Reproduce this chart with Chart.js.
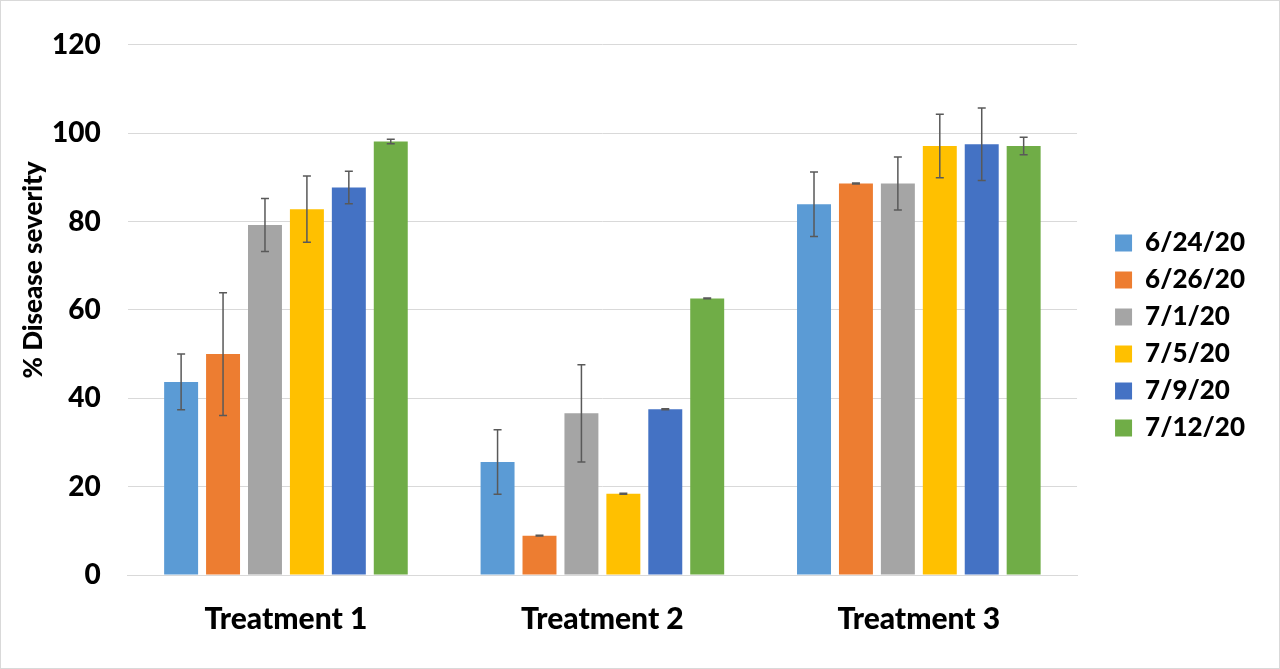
<!DOCTYPE html>
<html lang="en">
<head>
    <meta charset="UTF-8">
    <title>Disease severity</title>
    <script src="https://cdn.jsdelivr.net/npm/chart.js"></script>
    <style>
        html, body { margin: 0; padding: 0; background: #fff; }
        .wrap { width: 1280px; height: 669px; position: relative; box-sizing: border-box; border: 1px solid #d9d9d9; }
    </style>
</head>
<body>
    <div class="wrap">
        <canvas id="grafica"></canvas>
    </div>

    <script>
        // Data
        const categorias = ['Treatment 1', 'Treatment 2', 'Treatment 3'];
        const fechas = ['6/24/20', '6/26/20', '7/1/20', '7/5/20', '7/9/20', '7/12/20'];
        const colores = ['#5B9BD5', '#ED7D31', '#A5A5A5', '#FFC000', '#4472C4', '#70AD47'];

        const v0624 = [43.7, 25.6, 83.9];
        const v0626 = [50.0, 8.9, 88.6];
        const v0701 = [79.2, 36.6, 88.6];
        const v0705 = [82.8, 18.4, 97.1];
        const v0709 = [87.7, 37.5, 97.5];
        const v0712 = [98.1, 62.6, 97.1];

        const e0624 = [6.3, 7.3, 7.3];
        const e0626 = [13.9, 0.1, 0.1];
        const e0701 = [6.0, 11.0, 6.0];
        const e0705 = [7.5, 0.1, 7.2];
        const e0709 = [3.7, 0.1, 8.2];
        const e0712 = [0.5, 0.1, 2.0];

        const yTicks = [0, 20, 40, 60, 80, 100, 120];
        const tituloY = '% Disease severity';

        const valores = [v0624, v0626, v0701, v0705, v0709, v0712];
        const errores = [e0624, e0626, e0701, e0705, e0709, e0712];

        Chart.defaults.font.family = 'Lato, "Open Sans", sans-serif';
        Chart.defaults.font.weight = 900;
        Chart.defaults.color = '#000';

        // error bars drawn through the y scale
        const barrasError = {
            id: 'barrasError',
            afterDatasetsDraw(chart) {
                const ctx = chart.ctx;
                const y = chart.scales.y;
                ctx.save();
                ctx.strokeStyle = '#595959';
                ctx.lineWidth = 1.5;
                chart.data.datasets.forEach((ds, i) => {
                    const meta = chart.getDatasetMeta(i);
                    meta.data.forEach((bar, j) => {
                        const v = ds.data[j];
                        const e = ds.errores[j];
                        const top = y.getPixelForValue(v + e);
                        const bot = y.getPixelForValue(v - e);
                        ctx.beginPath();
                        ctx.moveTo(bar.x, top);
                        ctx.lineTo(bar.x, bot);
                        ctx.moveTo(bar.x - 4, top);
                        ctx.lineTo(bar.x + 4, top);
                        ctx.moveTo(bar.x - 4, bot);
                        ctx.lineTo(bar.x + 4, bot);
                        ctx.stroke();
                    });
                });
                ctx.restore();
            }
        };

        // extra gap between plot area and legend items, legend nudged up
        const GAP_LEYENDA = 27;
        const SUBIR_LEYENDA = 13;
        const huecoLeyenda = {
            id: 'huecoLeyenda',
            beforeInit(chart) {
                const fit = chart.legend.fit;
                chart.legend.fit = function () {
                    fit.call(this);
                    this.width += GAP_LEYENDA;
                };
            },
            afterLayout(chart) {
                const l = chart.legend;
                l.left += GAP_LEYENDA;
                l.right += GAP_LEYENDA;
                l.top -= SUBIR_LEYENDA;
                l.bottom -= SUBIR_LEYENDA;
            }
        };

        // y axis title, sits a bit above the plot centre like the original
        const tituloEje = {
            id: 'tituloEje',
            afterDraw(chart) {
                const ctx = chart.ctx;
                const area = chart.chartArea;
                ctx.save();
                ctx.translate(33, (area.top + area.bottom) / 2 - 40);
                ctx.rotate(-Math.PI / 2);
                ctx.font = '900 26px Lato, "Open Sans", sans-serif';
                ctx.fillStyle = '#000';
                ctx.textAlign = 'center';
                ctx.textBaseline = 'middle';
                ctx.fillText(tituloY, 0, 0);
                ctx.restore();
            }
        };

        const ctx = document.getElementById('grafica').getContext('2d');
        new Chart(ctx, {
            type: 'bar',
            data: {
                labels: categorias,
                datasets: fechas.map((f, i) => ({
                    label: f,
                    data: valores[i],
                    errores: errores[i],
                    backgroundColor: colores[i],
                    borderWidth: 0,
                    categoryPercentage: 0.795,
                    barPercentage: 0.81
                }))
            },
            options: {
                responsive: true,
                maintainAspectRatio: false,
                animation: false,
                layout: { padding: { top: 41, right: 24, bottom: 13, left: 24 } },
                plugins: {
                    tooltip: { enabled: false },
                    legend: {
                        position: 'right',
                        labels: {
                            boxWidth: 17,
                            boxHeight: 17,
                            padding: 11,
                            font: { size: 26, weight: 900 }
                        }
                    }
                },
                scales: {
                    x: {
                        grid: { display: false },
                        border: { color: '#d9d9d9', width: 1 },
                        ticks: { padding: 18, font: { size: 30, weight: 900 } }
                    },
                    y: {
                        min: 0,
                        max: 120,
                        afterBuildTicks: (s) => { s.ticks = yTicks.map(v => ({ value: v })); },
                        grid: { color: '#d9d9d9', lineWidth: 1, drawTicks: false },
                        border: { display: false },
                        ticks: { padding: 27, font: { size: 28, weight: 900 } },
                        title: { display: false }
                    }
                }
            },
            plugins: [barrasError, huecoLeyenda, tituloEje]
        });
    </script>
</body>
</html>
